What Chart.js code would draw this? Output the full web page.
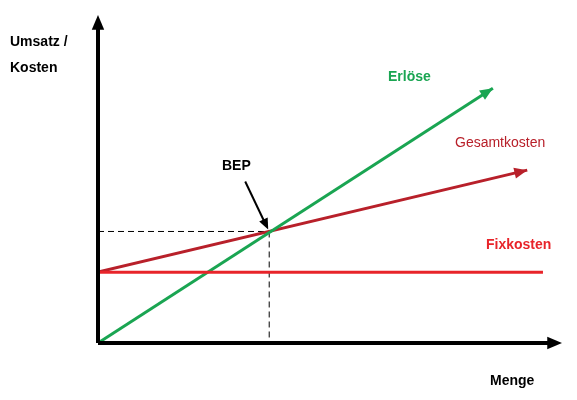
<!DOCTYPE html>
<html><head><meta charset="utf-8">
<script src="https://cdn.jsdelivr.net/npm/chart.js@4"></script>
<style>body{margin:0;background:#fff}#wrap{width:577px;height:400px}</style>
</head><body><div id="wrap"><canvas id="c"></canvas></div>
<script>
// Values (0..100 on both axes)
const erloese = [{x: 0, y: 0}, {x: 85.1, y: 77.7}];
const gesamtkosten = [{x: 0, y: 21.6}, {x: 92.5, y: 52.7}];
const fixkosten = [{x: 0, y: 21.6}, {x: 95.9, y: 21.6}];
const bep = {x: 36.9, y: 34.0};

const green = '#1aa552';
const darkRed = '#b8202a';
const red = '#e8242a';

function arrowHead(ctx, x1, y1, x2, y2, color, size) {
    const a = Math.atan2(y2 - y1, x2 - x1);
    ctx.save();
    ctx.fillStyle = color;
    ctx.beginPath();
    ctx.moveTo(x2, y2);
    ctx.lineTo(x2 - size * Math.cos(a - 0.4), y2 - size * Math.sin(a - 0.4));
    ctx.lineTo(x2 - size * Math.cos(a + 0.4), y2 - size * Math.sin(a + 0.4));
    ctx.closePath();
    ctx.fill();
    ctx.restore();
}

const decor = {
    id: 'decor',
    beforeDatasetsDraw(chart) {
        const ctx = chart.ctx, xs = chart.scales.x, ys = chart.scales.y;
        const x0 = xs.getPixelForValue(0), y0 = ys.getPixelForValue(0);
        const bx = xs.getPixelForValue(bep.x), by = ys.getPixelForValue(bep.y);
        // dashed guides
        ctx.save();
        ctx.strokeStyle = '#000';
        ctx.lineWidth = 1;
        ctx.setLineDash([6, 4]);
        ctx.beginPath();
        ctx.moveTo(x0, by); ctx.lineTo(bx, by);
        ctx.moveTo(bx, by); ctx.lineTo(bx, y0);
        ctx.stroke();
        ctx.restore();
    },
    afterDatasetsDraw(chart) {
        const ctx = chart.ctx, xs = chart.scales.x, ys = chart.scales.y;
        const px = v => xs.getPixelForValue(v), py = v => ys.getPixelForValue(v);
        const x0 = px(0), y0 = py(0);
        // axes
        ctx.save();
        ctx.strokeStyle = '#000';
        ctx.lineWidth = 4;
        ctx.beginPath();
        ctx.moveTo(x0, y0); ctx.lineTo(x0, py(100) + 12);
        ctx.moveTo(x0, y0); ctx.lineTo(px(100) - 12, y0);
        ctx.stroke();
        ctx.restore();
        arrowHead(ctx, x0, y0, x0, py(100), '#000', 16);
        arrowHead(ctx, x0, y0, px(100), y0, '#000', 16);
        // line arrows
        arrowHead(ctx, px(erloese[0].x), py(erloese[0].y), px(erloese[1].x), py(erloese[1].y), green, 14);
        arrowHead(ctx, px(gesamtkosten[0].x), py(gesamtkosten[0].y), px(gesamtkosten[1].x), py(gesamtkosten[1].y), darkRed, 14);
        // BEP arrow
        const bx = px(bep.x), by = py(bep.y);
        ctx.save();
        ctx.strokeStyle = '#000';
        ctx.lineWidth = 2;
        ctx.beginPath();
        ctx.moveTo(bx - 24, by - 50); ctx.lineTo(bx - 4, by - 8);
        ctx.stroke();
        ctx.restore();
        arrowHead(ctx, bx - 24, by - 50, bx - 1, by - 2, '#000', 12);
        // texts
        ctx.save();
        ctx.textBaseline = 'middle';
        ctx.font = 'bold 14px "Liberation Sans", Arial, sans-serif';
        ctx.fillStyle = '#000';
        ctx.fillText('Umsatz /', 10, 42);
        ctx.fillText('Kosten', 10, 68);
        ctx.fillText('BEP', 222, 166);
        ctx.fillText('Menge', 490, 381);
        ctx.fillStyle = green;
        ctx.fillText('Erlöse', 388, 77);
        ctx.fillStyle = red;
        ctx.fillText('Fixkosten', 486, 245);
        ctx.font = '14px "Liberation Sans", Arial, sans-serif';
        ctx.fillStyle = darkRed;
        ctx.fillText('Gesamtkosten', 455, 143);
        ctx.restore();
    }
};

new Chart(document.getElementById('c'), {
    type: 'scatter',
    data: {
        datasets: [
            {label: 'Fixkosten', data: fixkosten, borderColor: red, borderWidth: 3},
            {label: 'Erlöse', data: erloese, borderColor: green, borderWidth: 3},
            {label: 'Gesamtkosten', data: gesamtkosten, borderColor: darkRed, borderWidth: 3}
        ].map(d => Object.assign(d, {showLine: true, pointRadius: 0, fill: false}))
    },
    options: {
        responsive: true,
        maintainAspectRatio: false,
        animation: false,
        layout: {padding: {left: 98, right: 15, top: 15, bottom: 57}},
        plugins: {legend: {display: false}, tooltip: {enabled: false}},
        scales: {
            x: {type: 'linear', min: 0, max: 100, display: false},
            y: {type: 'linear', min: 0, max: 100, display: false}
        }
    },
    plugins: [decor]
});
</script></body></html>
